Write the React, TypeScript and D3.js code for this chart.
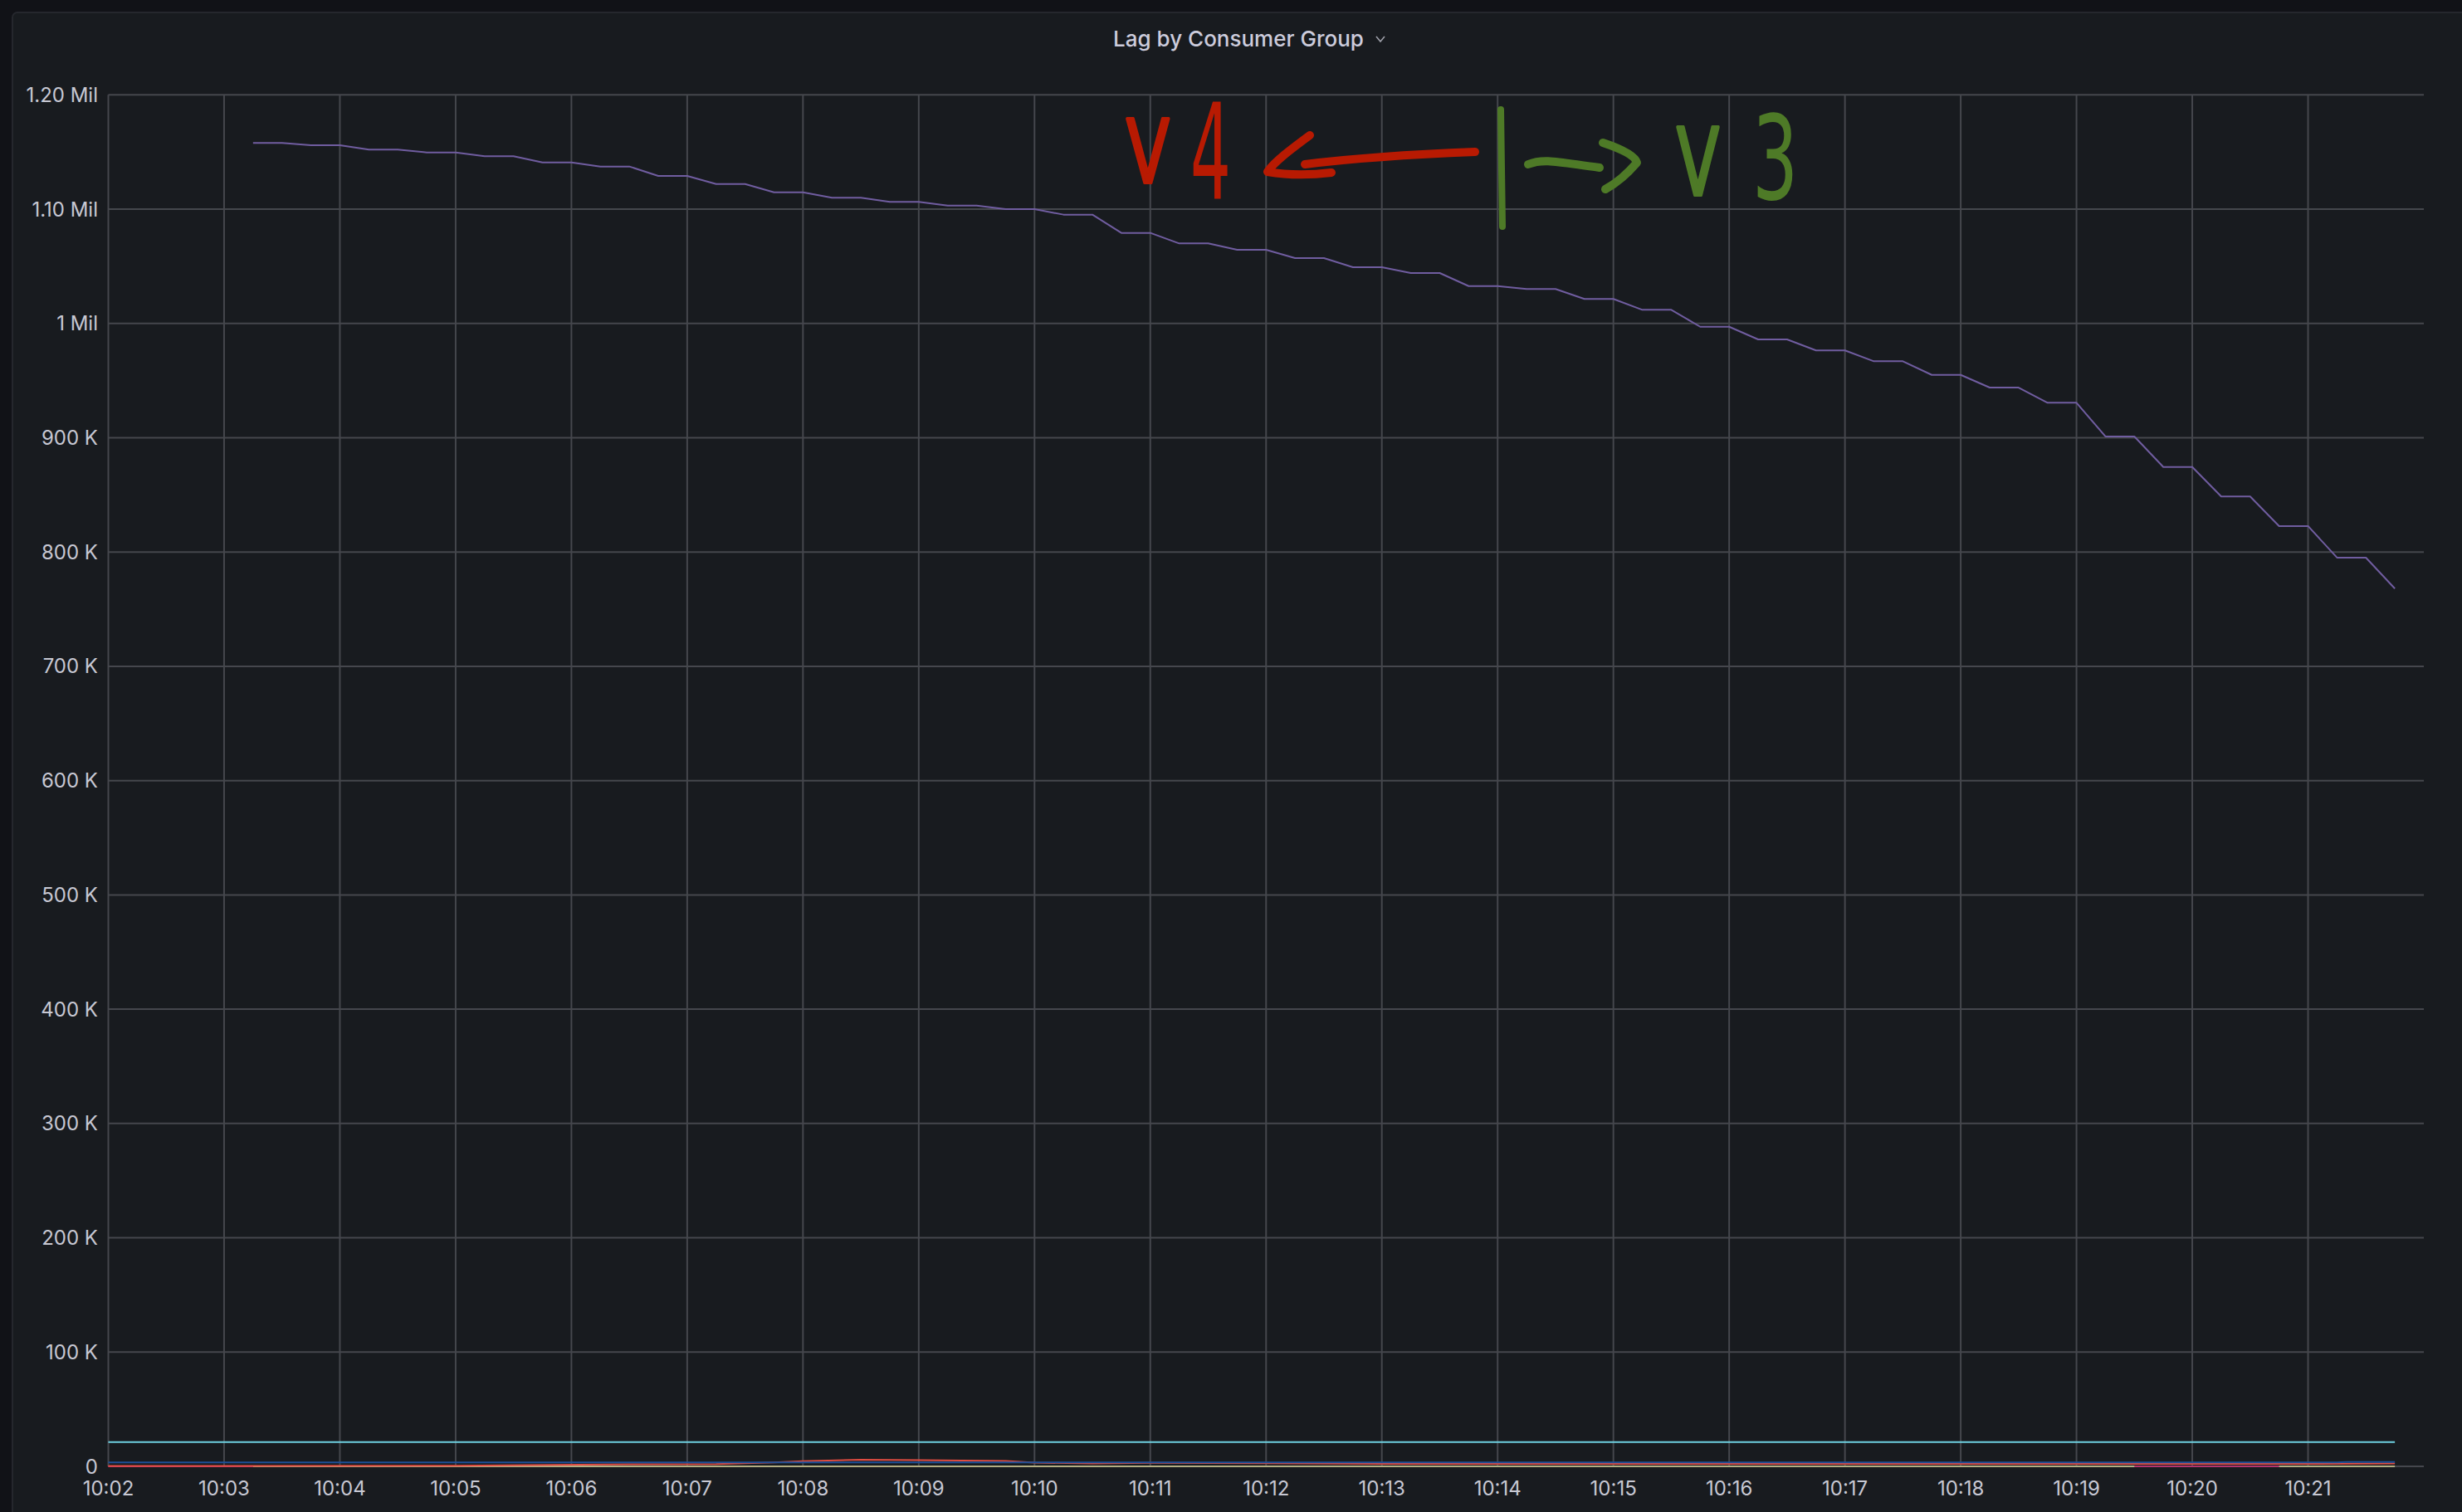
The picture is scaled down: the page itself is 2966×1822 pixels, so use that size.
import React, { useRef, useEffect } from 'react';
import * as d3 from 'd3';

// purple consumer group: one sample every 15s from 10:03:15 (values hold for two samples)
const purpleStart = '10:03:15';
const sampleStepSec = 15;
const purpleLag = [
  1157900, 1157900, 1155900, 1155900, 1152100, 1152100, 1149600, 1149600,
  1146300, 1146300, 1140900, 1140900, 1137300, 1137300, 1129100, 1129100,
  1122000, 1122000, 1114700, 1114700, 1110000, 1110000, 1106300, 1106300,
  1103100, 1103100, 1100000, 1100000, 1095200, 1095200, 1079200, 1079200,
  1070000, 1070000, 1064400, 1064400, 1057200, 1057200, 1049200, 1049200,
  1044100, 1044100, 1032700, 1032700, 1030100, 1030100, 1021400, 1021400,
  1011900, 1011900, 997100, 997100, 986000, 986000, 976400, 976400,
  966900, 966900, 955000, 955000, 943900, 943900, 930600, 930600,
  901100, 901100, 874400, 874400, 848600, 848600, 822700, 822700,
  795100, 795100, 768000,
];

// the small groups near zero
const cyanTimes = ['10:02:00', '10:21:45'];
const cyanLag = [21300, 21300];

const blueTimes = ['10:02:00', '10:21:15', '10:21:20', '10:21:45'];
const blueLag = [3400, 3400, 3900, 3900];

const redTimes = [
  '10:02:00', '10:05:00', '10:06:30', '10:07:15', '10:07:45', '10:08:00', '10:08:30',
  '10:09:00', '10:09:45', '10:10:00', '10:10:30', '10:11:00', '10:12:00', '10:13:00',
  '10:21:00', '10:21:45',
];
const redLag = [
  300, 500, 1800, 2000, 3400, 4600, 5800,
  5400, 4800, 3200, 2600, 3000, 2800, 2200,
  2200, 2600,
];

const khakiTimes = ['10:03:15', '10:21:45'];
const khakiLag = [0, 0];

const magentaTimes = ['10:02:00', '10:03:15', '10:03:30', '10:19:15', '10:19:30', '10:20:45'];
const magentaLag = [0, 0, null, null, 0, 0];

const xTicks = [
  '10:02', '10:03', '10:04', '10:05', '10:06', '10:07', '10:08', '10:09', '10:10', '10:11',
  '10:12', '10:13', '10:14', '10:15', '10:16', '10:17', '10:18', '10:19', '10:20', '10:21',
];
const yTicks = [0, 100000, 200000, 300000, 400000, 500000, 600000, 700000, 800000, 900000, 1000000, 1100000, 1200000];
const yTickLabels = ['0', '100 K', '200 K', '300 K', '400 K', '500 K', '600 K', '700 K', '800 K', '900 K', '1 Mil', '1.10 Mil', '1.20 Mil'];

const W = 2966;
const H = 1822;
const FONT = 'Inter, Roboto, "Noto Sans", sans-serif';

const App = () => {
  const svgRef = useRef<SVGSVGElement | null>(null);

  useEffect(() => {
    const root = d3.select(svgRef.current);
    root.selectAll('*').remove();

    const parseSec = d3.timeParse('%H:%M:%S');
    const parseMin = d3.timeParse('%H:%M');

    const margin = { left: 130.5, right: W - 2920, top: 114.3, bottom: H - 1767 };

    const x = d3
      .scaleTime()
      .domain([parseSec('10:02:00'), parseSec('10:22:00')])
      .range([margin.left, W - margin.right]);
    const y = d3.scaleLinear().domain([0, 1200000]).range([H - margin.bottom, margin.top]);

    // page + panel
    root.append('rect').attr('width', W).attr('height', H).attr('fill', '#111217');
    root
      .append('rect')
      .attr('x', 15)
      .attr('y', 15)
      .attr('width', W + 20)
      .attr('height', H + 20)
      .attr('rx', 6)
      .attr('fill', '#181b1f')
      .attr('stroke', '#25272d')
      .attr('stroke-width', 2);

    // title
    root
      .append('text')
      .attr('x', 1492)
      .attr('y', 56)
      .attr('text-anchor', 'middle')
      .attr('font-family', FONT)
      .attr('font-weight', 500)
      .attr('font-size', 26)
      .attr('fill', '#ccccdc')
      .text('Lag by Consumer Group');
    root
      .append('path')
      .attr('d', 'M1658,44 L1663,50 L1668,44')
      .attr('fill', 'none')
      .attr('stroke', '#9fa0aa')
      .attr('stroke-width', 1.6);

    // grid
    const grid = root.append('g').attr('stroke', '#45474d').attr('stroke-width', 2);
    yTicks.forEach((t) => {
      grid
        .append('line')
        .attr('x1', margin.left)
        .attr('x2', W - margin.right)
        .attr('y1', y(t))
        .attr('y2', y(t));
    });
    xTicks.forEach((t) => {
      grid
        .append('line')
        .attr('x1', x(parseMin(t)))
        .attr('x2', x(parseMin(t)))
        .attr('y1', y(1200000))
        .attr('y2', y(0));
    });

    // tick labels
    const labels = root
      .append('g')
      .attr('font-family', FONT)
      .attr('font-size', 24)
      .attr('fill', '#c7c8d3');
    yTicks.forEach((t, i) => {
      labels
        .append('text')
        .attr('x', 118)
        .attr('y', y(t) + 8.5)
        .attr('text-anchor', 'end')
        .text(yTickLabels[i]);
    });
    xTicks.forEach((t) => {
      labels
        .append('text')
        .attr('x', x(parseMin(t)))
        .attr('y', 1802)
        .attr('text-anchor', 'middle')
        .text(t);
    });

    // series
    const line = d3
      .line<[Date, number | null]>()
      .defined((d) => d[1] != null)
      .x((d) => x(d[0]))
      .y((d) => y(d[1] as number));

    const drawSeries = (times: string[], values: (number | null)[], color: string) => {
      const pts = times.map((t, i) => [parseSec(t), values[i]] as [Date, number | null]);
      root
        .append('path')
        .attr('d', line(pts))
        .attr('fill', 'none')
        .attr('stroke', color)
        .attr('stroke-width', 2)
        .attr('stroke-linejoin', 'round');
    };

    drawSeries(khakiTimes, khakiLag, '#b3ae84');
    drawSeries(magentaTimes, magentaLag, '#b4356f');
    drawSeries(redTimes, redLag, '#e24d42');
    drawSeries(blueTimes, blueLag, '#1d4f98');
    drawSeries(cyanTimes, cyanLag, '#6ed0e0');

    const t0 = parseSec(purpleStart) as Date;
    const purpleTimes = purpleLag.map((_, i) =>
      d3.timeFormat('%H:%M:%S')(d3.timeSecond.offset(t0, i * sampleStepSec))
    );
    drawSeries(purpleTimes, purpleLag, '#705da0');

    // hand-drawn annotation
    const note = root.append('g').attr('fill', 'none').attr('stroke-linecap', 'round').attr('stroke-linejoin', 'round');
    const red = '#b81a02';
    const green = '#4e7a27';
    const hand = (txt: string, px: number, py: number, size: number, sx: number, sw: number, color: string) => {
      note
        .append('text')
        .attr('transform', `translate(${px},${py}) scale(${sx},1)`)
        .attr('font-family', '"DejaVu Sans", sans-serif')
        .attr('font-size', size)
        .attr('fill', color)
        .attr('stroke', color)
        .attr('stroke-width', sw)
        .text(txt);
    };
    hand('V', 1357, 220, 105, 0.72, 4, red);
    hand('4', 1434, 240, 160, 0.48, 0, red);
    note
      .append('path')
      .attr('d', 'M1777,183 C1700,186 1620,192 1572,198')
      .attr('stroke', red)
      .attr('stroke-width', 10);
    note
      .append('path')
      .attr('d', 'M1578,163 C1555,180 1535,195 1527,207 C1550,211 1580,211 1604,208')
      .attr('stroke', red)
      .attr('stroke-width', 10);

    note
      .append('path')
      .attr('d', 'M1808,132 L1810,273')
      .attr('stroke', green)
      .attr('stroke-width', 8);
    note
      .append('path')
      .attr('d', 'M1841,198 C1860,190 1880,196 1927,202')
      .attr('stroke', green)
      .attr('stroke-width', 10);
    note
      .append('path')
      .attr('d', 'M1931,172 C1955,180 1970,188 1972,196 C1960,210 1945,222 1934,228')
      .attr('stroke', green)
      .attr('stroke-width', 10);
    hand('V', 2020, 235, 113, 0.66, 4, green);
    hand('3', 2111, 240, 140, 0.62, 0, green);
  }, []);

  return (
    <svg
      ref={svgRef}
      width={W}
      height={H}
      style={{ position: 'absolute', left: 0, top: 0, display: 'block' }}
    ></svg>
  );
};

export default App;
